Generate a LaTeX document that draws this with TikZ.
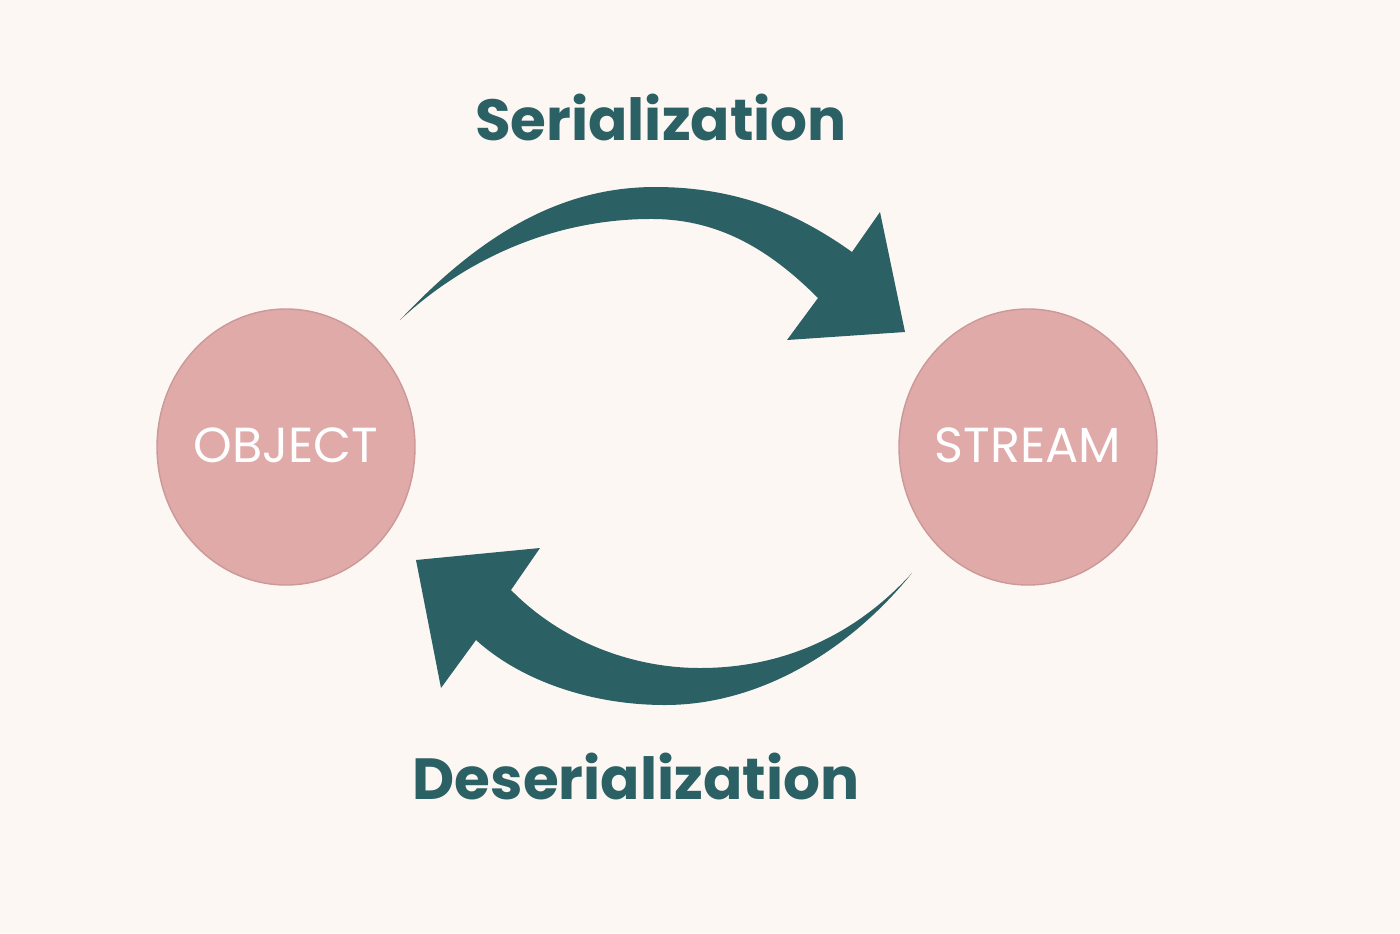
\documentclass[tikz,border=0pt]{standalone}
\usepackage{fontspec}
\setmainfont{Poppins}
\usetikzlibrary{positioning}
\definecolor{bgpaper}{HTML}{FDF7F4}
\definecolor{rosefill}{HTML}{E0AAA9}
\definecolor{tealdark}{HTML}{2B6064}
\tikzset{blob/.style={fill=rosefill, draw=rosefill!90!black, line width=0.4pt},
  blobtext/.style={text=white, font=\fontsize{14}{17}\selectfont},
  caption/.style={text=tealdark, font=\fontsize{16.5}{20}\selectfont\bfseries},
  swoosh/.style={fill=tealdark}}
\begin{document}
\begin{tikzpicture}[x=0.01cm,y=-0.01cm]
	\fill[bgpaper] (0,0) rectangle (1400,933);
	\useasboundingbox (0,0) rectangle (1400,933);
	\draw[blob] (286,447) ellipse [x radius=129, y radius=138];
	\draw[blob] (1028,447) ellipse [x radius=129, y radius=138];
	\node[blobtext] (object) at (286,445) {OBJECT};
	\node[blobtext] (stream) at (1028,445) {STREAM};
	\node[caption] (ser) at (661,117) {Serialization};
	\node[caption] (deser) at (636,776) {Deserialization};
	% upper arrow
	\fill[swoosh] (400,320) .. controls (480,235) and (560,187) .. (655,187)
		.. controls (740,187) and (800,215) .. (852,252) -- (880,212) -- (905,332) -- (787,340) -- (818,298)
		.. controls (770,250) and (720,220) .. (655,219) .. controls (560,218) and (470,255) .. (400,320) -- cycle;
	% lower arrow
	\fill[swoosh] (912,573) .. controls (850,650) and (760,705) .. (665,705)
		.. controls (590,705) and (520,680) .. (476,640) -- (441,688) -- (416,560) -- (540,548) -- (511,590)
		.. controls (560,640) and (630,668) .. (700,668) .. controls (790,668) and (860,630) .. (912,573) -- cycle;
\end{tikzpicture}
\end{document}
